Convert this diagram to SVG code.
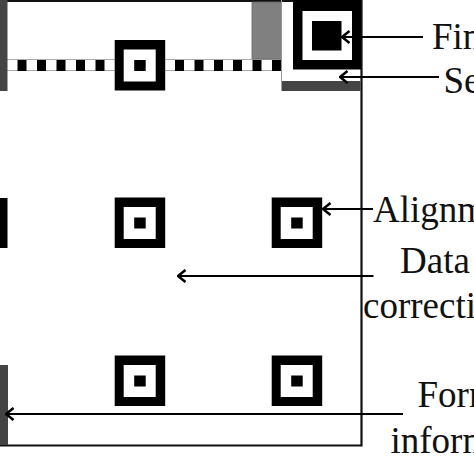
<svg xmlns="http://www.w3.org/2000/svg" width="474" height="474" viewBox="0 0 474 474">
<style>
.k{fill:#000}.w{fill:#fff}
.l{fill:none;stroke:#000;stroke-width:2.200}
.t{font-family:"Liberation Serif","Times New Roman",serif;font-size:37px;fill:#111}
</style>
<defs>
<marker id="a" markerUnits="userSpaceOnUse" markerWidth="14" markerHeight="14" refX="12.500" refY="7" orient="auto" viewBox="0 0 14 14"><path d="M5 1L12.500 7L5 13" fill="none" stroke="#000" stroke-width="2.600"/></marker>
<g id="al"><rect class="k" x="0" y="0" width="50.500" height="50.500"/><rect class="w" x="9" y="9.500" width="32" height="32"/><rect class="k" x="19.500" y="20" width="11.500" height="11"/></g>
<g id="dots"><rect x="0" y="0" width="9" height="11" class="k"/></g>
</defs>
<rect width="474" height="474" fill="#fff"/>
<g id="frame"><path d="M0 1H361.500V445.500H0" fill="none" stroke="#111" stroke-width="2.200"/></g>
<g id="timing">
<rect x="0" y="59.500" width="281" height="11" fill="#fff" stroke="#aaa" stroke-width="1"/>
<use href="#dots" x="-2" y="60"/><use href="#dots" x="17.500" y="60"/><use href="#dots" x="37" y="60"/><use href="#dots" x="56.500" y="60"/><use href="#dots" x="76" y="60"/><use href="#dots" x="95.500" y="60"/>
<use href="#dots" x="175" y="60"/><use href="#dots" x="194.500" y="60"/><use href="#dots" x="214" y="60"/><use href="#dots" x="233" y="60"/><use href="#dots" x="252.500" y="60"/><use href="#dots" x="272" y="60"/>
</g>
<g id="format-information">
<rect x="0" y="0" width="7.500" height="91" fill="#444"/>
<rect x="0" y="365" width="8" height="80" fill="#444"/>
<rect x="252" y="2" width="29.500" height="57" fill="#808080" stroke="#666" stroke-width="0.800"/>
<rect x="281.500" y="81" width="79" height="10" fill="#444"/>
<path d="M281.500 0V81" stroke="#999" stroke-width="1" fill="none"/>
</g>
<g id="finder-pattern">
<rect class="k" x="293" y="0" width="68" height="69.500"/><rect class="w" x="302.500" y="11" width="49.500" height="49"/><rect class="k" x="312" y="21" width="29.500" height="29.500"/>
</g>
<g id="alignment-patterns">
<use href="#al" x="114.700" y="40"/>
<rect class="k" x="0" y="198" width="7.500" height="50"/>
<use href="#al" x="114.700" y="197.500"/><use href="#al" x="271.700" y="197.500"/>
<use href="#al" x="114.700" y="355.500"/><use href="#al" x="271.700" y="355.500"/>
</g>
<g id="connectors">
<path class="l" d="M423 37H342" marker-end="url(#a)"/>
<path class="l" d="M439 77H340" marker-end="url(#a)"/>
<path class="l" d="M373 209H323" marker-end="url(#a)"/>
<path class="l" d="M373.500 276H178" marker-end="url(#a)"/>
<path class="l" d="M403 414H6" marker-end="url(#a)"/>
</g>
<g id="labels">
<text class="t" x="432" y="49">Fin</text>
<text class="t" x="443.500" y="93">Se</text>
<text class="t" x="373" y="222">Alignm</text>
<text class="t" x="400" y="272.500">Data</text>
<text class="t" x="363" y="318">correcti</text>
<text class="t" x="417.500" y="406.500">Form</text>
<text class="t" x="390.500" y="453">inform</text>
</g>
</svg>
